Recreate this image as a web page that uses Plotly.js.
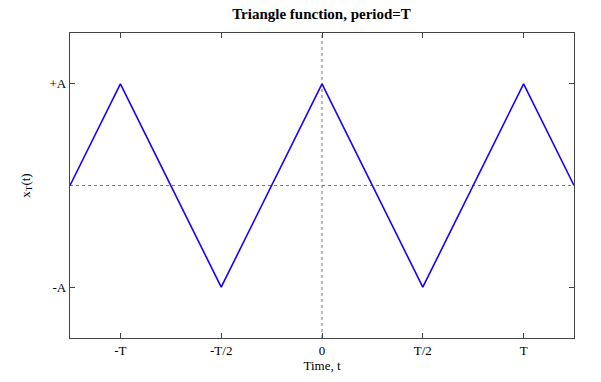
<!DOCTYPE html>
<html><head><meta charset="utf-8">
<script src="https://cdn.plot.ly/plotly-3.0.1.min.js"></script>
<style>html,body{margin:0;padding:0;background:#fff}</style>
</head><body><div id="plot" style="width:601px;height:382px"></div>
<script>
// time in units of period T, amplitude in units of A
const t = [-1.25, -1, -0.5, 0, 0.5, 1, 1.25];
const xT = [0, 1, -1, 1, -1, 1, 0];
const xTickVals = [-1, -0.5, 0, 0.5, 1];
const xTickText = ['-T', '-T/2', '0', 'T/2', 'T'];
const yTickVals = [-1, 1];
const yTickText = ['-A', '+A'];
const xRange = [-1.25, 1.25];
const yRange = [-1.5, 1.5];

const font = {family: '"Liberation Serif", "Times New Roman", serif', size: 13, color: '#000'};
const traces = [
  {x: [0, 0], y: yRange, mode: 'lines', line: {color: '#777', width: 1, dash: '3px,3px'}, hoverinfo: 'skip'},
  {x: xRange, y: [0, 0], mode: 'lines', line: {color: '#777', width: 1, dash: '3px,3px'}, hoverinfo: 'skip'},
  {x: t, y: xT, mode: 'lines', line: {color: '#1a00ff', width: 1.6}}
];
const axisCommon = {showgrid: false, zeroline: false, showline: true, mirror: 'ticks',
  linecolor: '#444', linewidth: 1.2, ticks: 'inside', ticklen: 5, tickcolor: '#444', tickwidth: 1,
  tickfont: font};
const layout = {
  width: 601, height: 382, showlegend: false,
  paper_bgcolor: '#fff', plot_bgcolor: '#fff',
  margin: {l: 70, r: 27, t: 33, b: 44},
  font: font,
  title: {text: '<b>Triangle function, period=T</b>', font: {family: font.family, size: 15, color: '#000'}, x: 0.535, xanchor: 'center', y: 0.963, yanchor: 'middle'},
  xaxis: Object.assign({}, axisCommon, {range: xRange, tickmode: 'array', tickvals: xTickVals, ticktext: xTickText,
    title: {text: 'Time, t', font: font, standoff: 3}}),
  yaxis: Object.assign({}, axisCommon, {range: yRange, tickmode: 'array', tickvals: yTickVals, ticktext: yTickText,
    title: {text: 'x<sub>T</sub>(t)', font: font, standoff: 16}})
};
Plotly.newPlot('plot', traces, layout, {displayModeBar: false, staticPlot: true});
</script></body></html>
